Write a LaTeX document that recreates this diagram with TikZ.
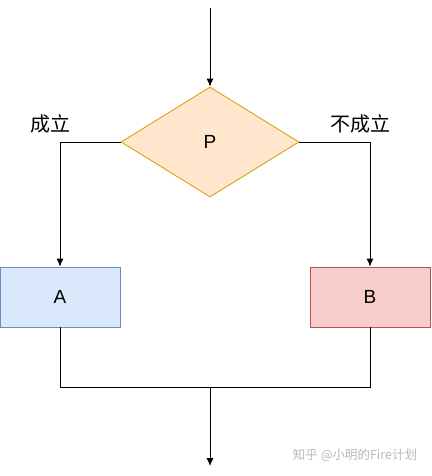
\documentclass[tikz,border=0pt]{standalone}
\usepackage{fontspec}
\setmainfont{Liberation Sans}
\newfontfamily\cjk{Noto Sans CJK SC}
\usetikzlibrary{shapes.geometric, arrows.meta, positioning}

\definecolor{condfill}{HTML}{FFE6CC}
\definecolor{conddraw}{HTML}{D79B00}
\definecolor{afill}{HTML}{DAE8FC}
\definecolor{adraw}{HTML}{6C8EBF}
\definecolor{bfill}{HTML}{F8CECC}
\definecolor{bdraw}{HTML}{B85450}

\tikzset{
  arr/.style = {-{Latex[length=8pt, width=7pt]}, line width=0.9pt},
  ln/.style = {line width=0.9pt},
  stepbox/.style = {draw, line width=0.8pt, minimum width=120pt, minimum height=60pt, inner sep=0pt, font=\fontsize{19}{21}\selectfont},
}

\begin{document}
\begin{tikzpicture}[x=1pt, y=-1pt]
  \useasboundingbox (0, 0) rectangle (431, 476);
  \node[diamond, draw=conddraw, fill=condfill, line width=0.8pt, inner sep=0pt,
        minimum width=178pt, minimum height=110pt, aspect=1.62,
        font=\fontsize{19}{21}\selectfont] (P) at (210, 142) {P};
  \node[stepbox, draw=adraw, fill=afill] (A) at (60, 297) {A};
  \node[stepbox, draw=bdraw, fill=bfill] (B) at (370, 297) {B};

  \coordinate (start) at (210, 8);
  \coordinate (merge) at (210, 387);
  \coordinate (stop) at (210, 466);

  \draw[arr] (start) -- (P.north);
  \draw[arr] (P.west) -| (A.north);
  \draw[arr] (P.east) -| (B.north);
  \draw[ln] (A.south) -- (A.south |- merge) -- (B.south |- merge) -- (B.south);
  \draw[arr] (merge) -- (stop);

  \node[font=\cjk\fontsize{20}{22}\selectfont] (yes) at (50, 124) {成立};
  \node[font=\cjk\fontsize{20}{22}\selectfont] (no) at (360, 124) {不成立};

  % watermark
  \node[text=black!28, font=\cjk\fontsize{12.5}{14}\selectfont] (mark) at (355, 455) {知乎 @小明的Fire计划};
\end{tikzpicture}
\end{document}
